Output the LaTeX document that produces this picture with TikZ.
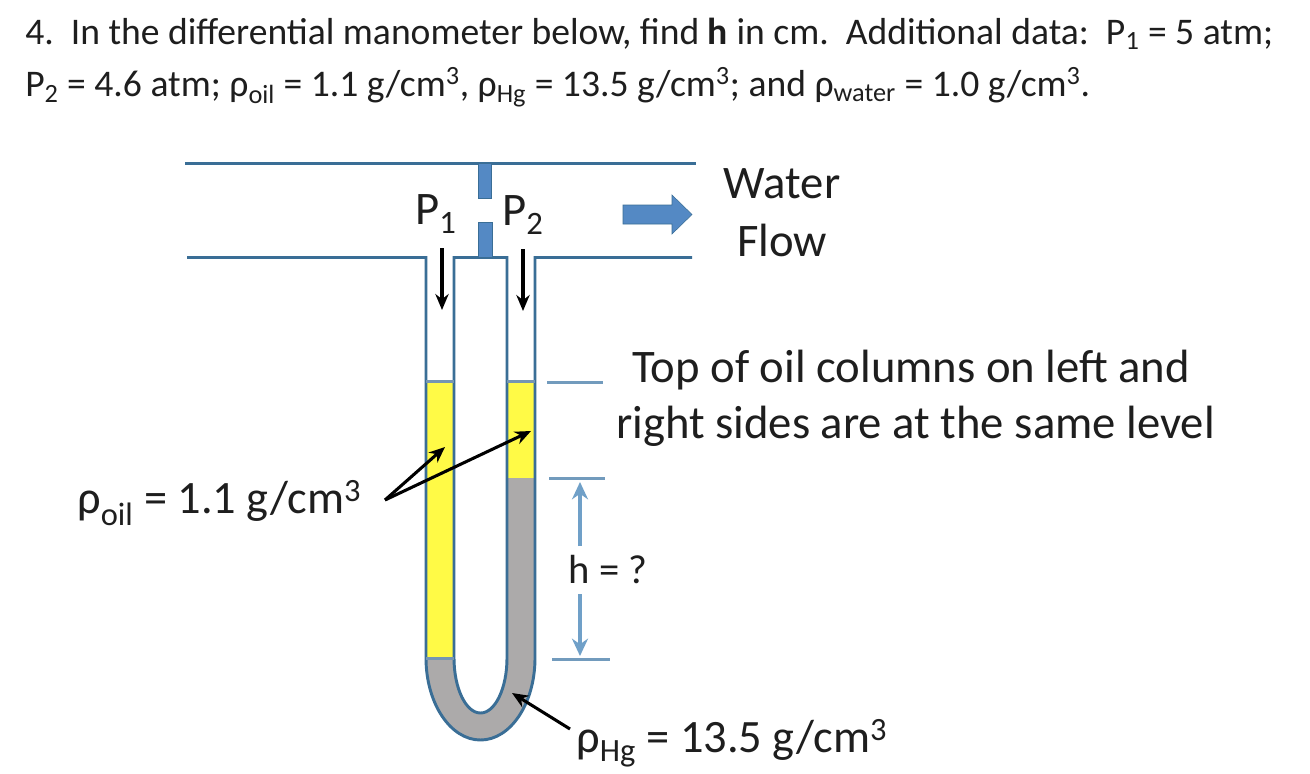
\documentclass[tikz,border=0pt]{standalone}
\usepackage{fontspec}
\setmainfont{Carlito}
\usetikzlibrary{arrows.meta}
\definecolor{pipe}{RGB}{58,110,150}
\definecolor{pipefill}{RGB}{84,137,196}
\definecolor{oil}{RGB}{255,250,70}
\definecolor{hg}{RGB}{172,170,170}
\definecolor{dim}{RGB}{112,160,200}
\definecolor{txt}{RGB}{30,30,30}
\tikzset{
  x=0.75pt,y=-0.75pt,
  pipeline/.style={draw=pipe,line width=2.2pt},
  baffle/.style={fill=pipefill,draw=pipe,line width=0.4pt},
  dimline/.style={draw=dim!85!gray,line width=2pt},
  dimarrow/.style={draw=dim,line width=2.6pt,-{Stealth[length=13pt,width=12pt]}},
  blackarrow/.style={draw=black,line width=2.3pt,-{Stealth[length=12pt,width=10pt]}},
  head/.style={font=\fontsize{28.2pt}{30pt}\selectfont,text=txt,anchor=west,inner sep=0pt},
  small/.style={font=\fontsize{35pt}{38pt}\selectfont,text=txt,inner sep=0pt},
  rholabel/.style={font=\fontsize{34.8pt}{38pt}\selectfont,text=txt,inner sep=0pt,anchor=west},
}
\begin{document}
\begin{tikzpicture}
\useasboundingbox (0,0) rectangle (1310,774);
\fill[white] (0,0) rectangle (1310,774);
% header
\node[head] (h1) at (25,34) {4.\ \ In the differential manometer below, find \textbf{h} in cm.\ \ Additional data:\ \ P\textsubscript{1} = 5 atm;};
\node[head] (h2) at (25,87) {P\textsubscript{2} = 4.6 atm; ρ\textsubscript{oil} = 1.1 g/cm\textsuperscript{3}, ρ\textsubscript{Hg} = 13.5 g/cm\textsuperscript{3}; and ρ\textsubscript{water} = 1.0 g/cm\textsuperscript{3}.};
% fluids
\fill[oil] (426,381) rectangle (454,658);
\fill[oil] (507,381) rectangle (535,478);
\fill[hg] (426,658) .. controls (426,703.3) and (450.4,740) .. (480.5,740)
  .. controls (510.6,740) and (535,703.3) .. (535,658) -- (535,478) -- (507,478) -- (507,658)
  .. controls (507,688.4) and (495.1,713) .. (480.5,713)
  .. controls (465.9,713) and (454,688.4) .. (454,658) -- cycle;
% tube
\draw[pipeline] (187,257.500) -- (426,257.500) -- (426,658) .. controls (426,703.3) and (450.4,740) .. (480.5,740)
  .. controls (510.6,740) and (535,703.3) .. (535,658) -- (535,257.500) -- (692,257.500);
\draw[pipeline] (454,658) -- (454,257.500) -- (507,257.500) -- (507,658)
  .. controls (507,688.4) and (495.1,713) .. (480.5,713)
  .. controls (465.9,713) and (454,688.4) .. (454,658);
\draw[pipeline] (185,163.500) -- (696,163.500);
% levels
\draw[dim!70!gray,line width=1.6pt] (426,381.500) -- (454,381.500) (507,381.500) -- (535,381.500);
\draw[dim!70!gray,line width=1.6pt] (426,658.500) -- (454,658.500);
% baffles
\fill[baffle] (478,163) rectangle (491,198);
\fill[baffle] (478,222) rectangle (492,257);
% flow arrow
\fill[baffle] (623,205) -- (672,205) -- (672,195) -- (692,214.500) -- (672,234) -- (672,224) -- (623,224) -- cycle;
% labels
\node[small] (p1) at (436,214) {P\textsubscript{1}};
\node[small] (p2) at (523,215) {P\textsubscript{2}};
\coordinate (a1s) at (442,248);\coordinate (a1e) at (442,310);
\coordinate (a2s) at (523,249);\coordinate (a2e) at (523,311);
\draw[blackarrow] (a1s) -- (a1e);
\draw[blackarrow] (a2s) -- (a2e);
\node[small] (water) at (782,184) {Water};
\node[small] (flowt) at (782,240) {Flow};
\node[small,anchor=west] (t1) at (632,370) {Top of oil columns on left and};
\node[small,anchor=west] (t2) at (616,426) {right sides are at the same level};
\node[rholabel] (roil) at (77,503) {ρ\textsubscript{oil} = 1.1 g/cm\textsuperscript{3}};
\coordinate (o) at (385,500);
\coordinate (o1) at (445,447);
\coordinate (o2) at (531,431);
\draw[blackarrow] (o) -- (o1);
\draw[blackarrow] (o) -- (o2);
% h dimension
\coordinate (ltop) at (547,382.500);\coordinate (ltopE) at (603,382.500);
\coordinate (lh) at (549,478.500);\coordinate (lhE) at (605,478.500);
\coordinate (lb) at (552,659.500);\coordinate (lbE) at (610,659.500);
\draw[dimline] (ltop) -- (ltopE);
\draw[dimline] (lh) -- (lhE);
\draw[dimline] (lb) -- (lbE);
\node[font=\fontsize{30.5pt}{34pt}\selectfont,text=txt,inner sep=0pt] (h) at (608,570) {h = ?};
\coordinate (d1) at (580,546);\coordinate (d1e) at (580,482);
\coordinate (d2) at (580,594);\coordinate (d2e) at (580,656);
\draw[dimarrow] (d1) -- (d1e);
\draw[dimarrow] (d2) -- (d2e);
% Hg
\node[rholabel] (rhg) at (576,743) {ρ\textsubscript{Hg} = 13.5 g/cm\textsuperscript{3}};
\coordinate (ha) at (570,729);\coordinate (hb) at (512,693);
\draw[blackarrow] (ha) -- (hb);
\end{tikzpicture}
\end{document}
